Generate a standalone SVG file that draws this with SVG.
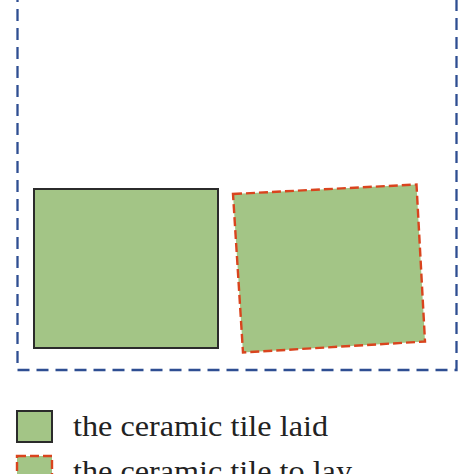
<svg xmlns="http://www.w3.org/2000/svg" width="474" height="474" viewBox="0 0 474 474">
<style>
.tile{fill:#a3c586}
.laid{stroke:#2b2b2b;stroke-width:2}
.tolay{stroke:#d9441e;stroke-width:2.4;stroke-dasharray:9 4}
.frame{fill:none;stroke:#2e4e92;stroke-width:2.3;stroke-dasharray:12 7}
.lbl{font-family:"Liberation Serif","DejaVu Serif",serif;font-size:29px;fill:#222}
</style>
<rect width="474" height="474" fill="#fff"/>
<g id="frame"><path class="frame" d="M17.5,-10 V370 H456.5 V-10"/></g>
<g id="tile-laid"><rect class="tile laid" x="34" y="189" width="184" height="159"/></g>
<g id="tile-to-lay"><polygon class="tile tolay" points="233,194 416.5,184.5 425,341.5 243,352.5"/></g>
<g id="legend">
<g id="legend-laid"><rect class="tile laid" x="17" y="411" width="35" height="31"/>
<text class="lbl" x="73" y="436" textLength="255" lengthAdjust="spacingAndGlyphs">the ceramic tile laid</text></g>
<g id="legend-to-lay"><rect class="tile tolay" x="17" y="456" width="35" height="31"/>
<text class="lbl" x="73" y="481" textLength="279" lengthAdjust="spacingAndGlyphs">the ceramic tile to lay</text></g>
</g>
</svg>
